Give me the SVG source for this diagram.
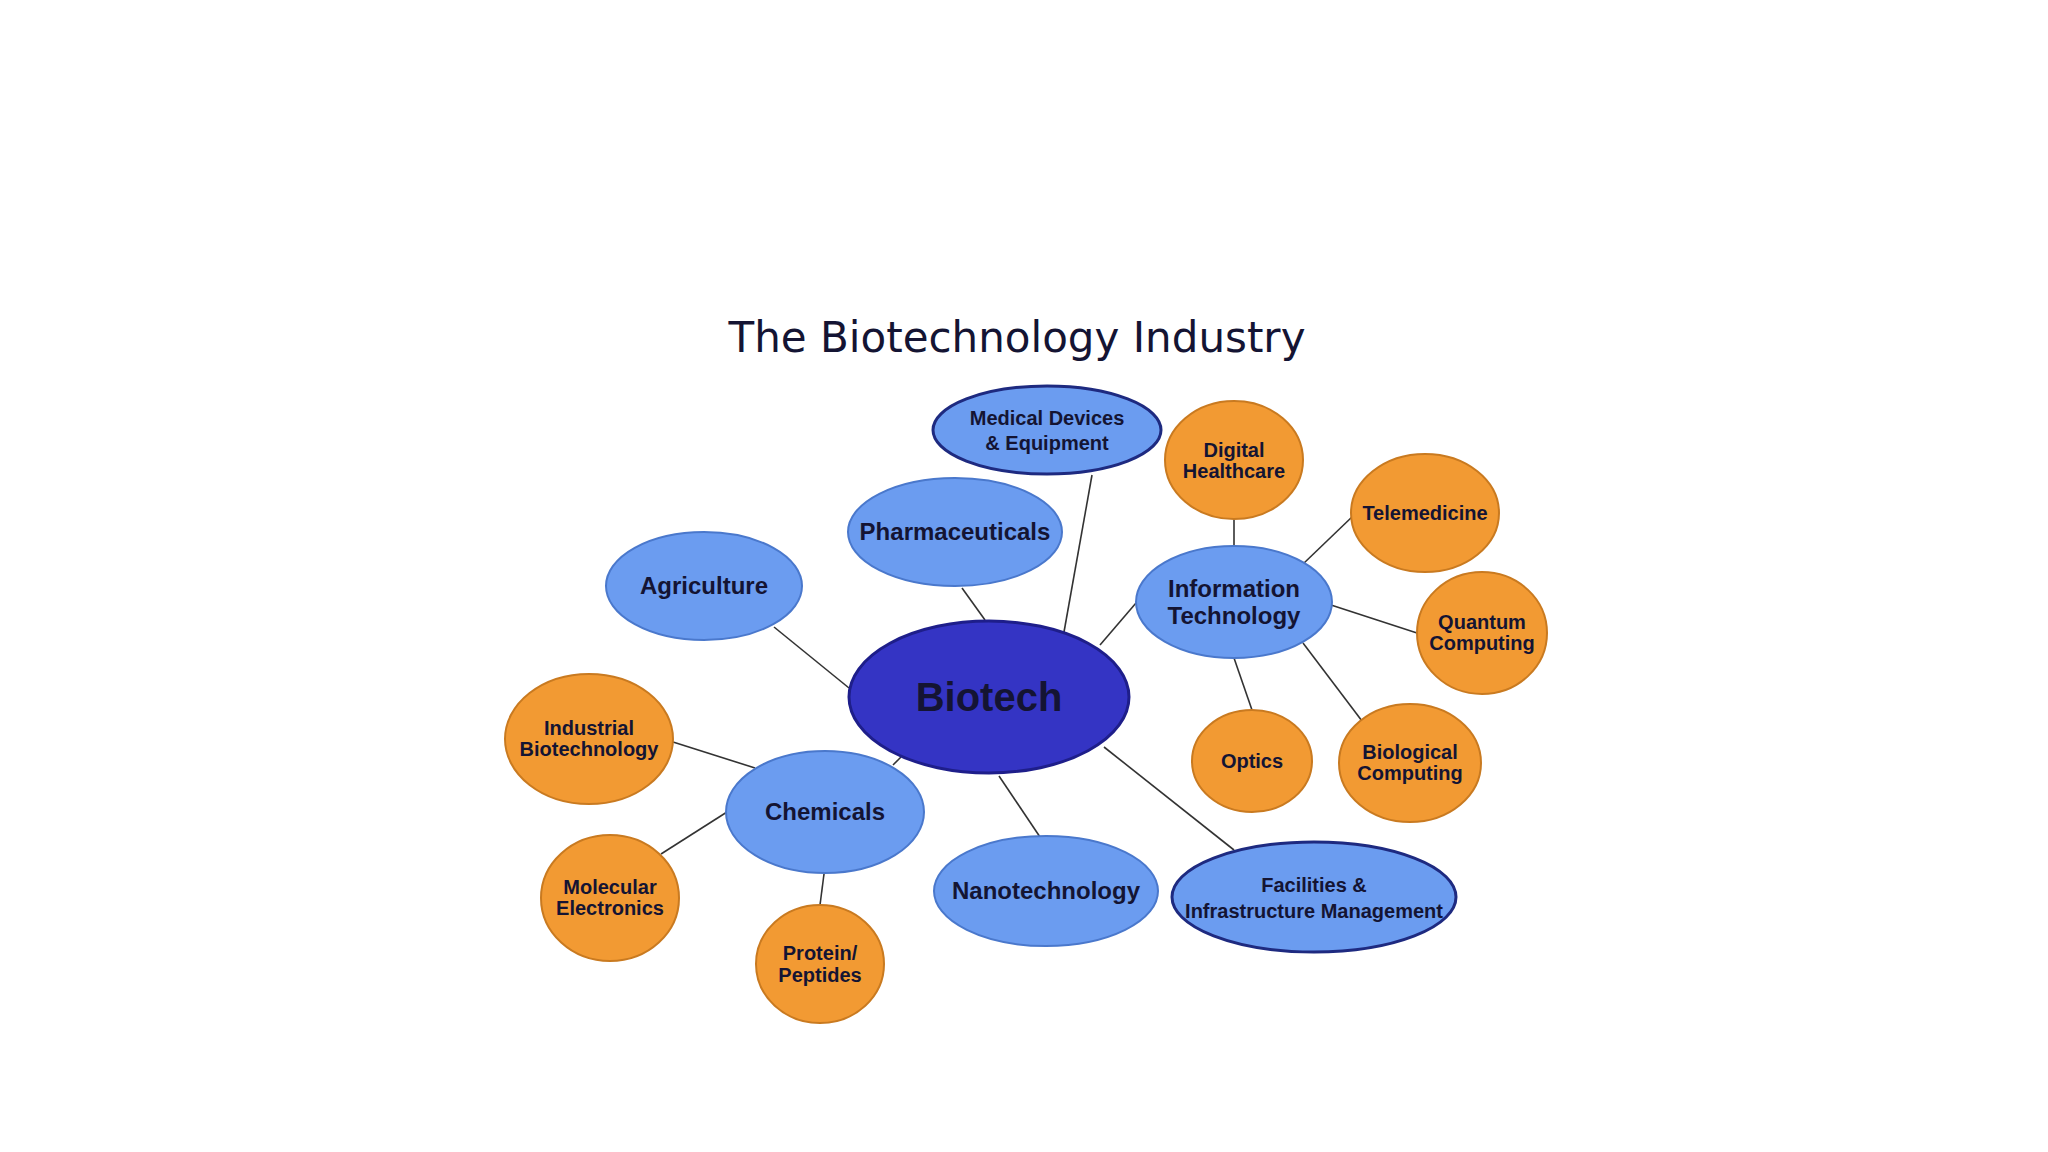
<svg xmlns="http://www.w3.org/2000/svg" width="2048" height="1152" viewBox="0 0 2048 1152">
<style>
.b{fill:#6b9cf0;stroke:#4a78cc;stroke-width:2}
.d{fill:#3434c4;stroke:#1e1e8a;stroke-width:3}
.o{fill:#f29a33;stroke:#c97a20;stroke-width:2}
.m{fill:#6b9cf0;stroke:#1e2a80;stroke-width:3}
text{font-family:"Liberation Sans",Arial,sans-serif;font-weight:bold;text-anchor:middle;fill:#141433}
.s{font-size:20px}.l{font-size:24px}
line{stroke:#333;stroke-width:1.6}
</style>
<rect width="2048" height="1152" fill="#fff"/>
<text x="1017" y="352" style="font-family:'DejaVu Sans',sans-serif;font-weight:normal;font-size:42px" fill="#222">The Biotechnology Industry</text>
<g id="connectors">
<line x1="1064" y1="632" x2="1092" y2="475"/>
<line x1="985" y1="620" x2="962" y2="588"/>
<line x1="849" y1="688" x2="774" y2="627"/>
<line x1="1100" y1="645" x2="1136" y2="603"/>
<line x1="901" y1="757" x2="893" y2="765"/>
<line x1="999" y1="776" x2="1040" y2="837"/>
<line x1="1104" y1="747" x2="1234" y2="850"/>
<line x1="1234" y1="546" x2="1234" y2="519"/>
<line x1="1303" y1="564" x2="1353" y2="516"/>
<line x1="1331" y1="605" x2="1417" y2="633"/>
<line x1="1303" y1="643" x2="1362" y2="721"/>
<line x1="1234" y1="658" x2="1252" y2="710"/>
<line x1="673" y1="742" x2="755" y2="768"/>
<line x1="661" y1="854" x2="727" y2="812"/>
<line x1="824" y1="874" x2="820" y2="905"/>
</g>
<g id="biotech"><ellipse class="d" cx="989" cy="697" rx="140" ry="76"/><text x="989" y="711" style="font-size:40px" fill="#fff">Biotech</text></g>
<g id="medical"><ellipse class="m" cx="1047" cy="430" rx="114" ry="44"/><text class="s" x="1047" y="425">Medical Devices</text><text class="s" x="1047" y="450">&amp; Equipment</text></g>
<g id="pharma"><ellipse class="b" cx="955" cy="532" rx="107" ry="54"/><text class="l" x="955" y="540">Pharmaceuticals</text></g>
<g id="agri"><ellipse class="b" cx="704" cy="586" rx="98" ry="54"/><text class="l" x="704" y="594">Agriculture</text></g>
<g id="it"><ellipse class="b" cx="1234" cy="602" rx="98" ry="56"/><text class="l" x="1234" y="597">Information</text><text class="l" x="1234" y="624">Technology</text></g>
<g id="chem"><ellipse class="b" cx="825" cy="812" rx="99" ry="61"/><text class="l" x="825" y="820">Chemicals</text></g>
<g id="nano"><ellipse class="b" cx="1046" cy="891" rx="112" ry="55"/><text class="l" x="1046" y="899">Nanotechnology</text></g>
<g id="facilities"><ellipse class="m" cx="1314" cy="897" rx="142" ry="55"/><text class="s" x="1314" y="892">Facilities &amp;</text><text class="s" x="1314" y="918">Infrastructure Management</text></g>
<g id="digital"><ellipse class="o" cx="1234" cy="460" rx="69" ry="59"/><text class="s" x="1234" y="457">Digital</text><text class="s" x="1234" y="478">Healthcare</text></g>
<g id="tele"><ellipse class="o" cx="1425" cy="513" rx="74" ry="59"/><text class="s" x="1425" y="520">Telemedicine</text></g>
<g id="quantum"><ellipse class="o" cx="1482" cy="633" rx="65" ry="61"/><text class="s" x="1482" y="629">Quantum</text><text class="s" x="1482" y="650">Computing</text></g>
<g id="biocomp"><ellipse class="o" cx="1410" cy="763" rx="71" ry="59"/><text class="s" x="1410" y="759">Biological</text><text class="s" x="1410" y="780">Computing</text></g>
<g id="optics"><ellipse class="o" cx="1252" cy="761" rx="60" ry="51"/><text class="s" x="1252" y="768">Optics</text></g>
<g id="industrial"><ellipse class="o" cx="589" cy="739" rx="84" ry="65"/><text class="s" x="589" y="735">Industrial</text><text class="s" x="589" y="756">Biotechnology</text></g>
<g id="molecular"><ellipse class="o" cx="610" cy="898" rx="69" ry="63"/><text class="s" x="610" y="894">Molecular</text><text class="s" x="610" y="915">Electronics</text></g>
<g id="protein"><ellipse class="o" cx="820" cy="964" rx="64" ry="59"/><text class="s" x="820" y="960">Protein/</text><text class="s" x="820" y="982">Peptides</text></g>
</svg>
